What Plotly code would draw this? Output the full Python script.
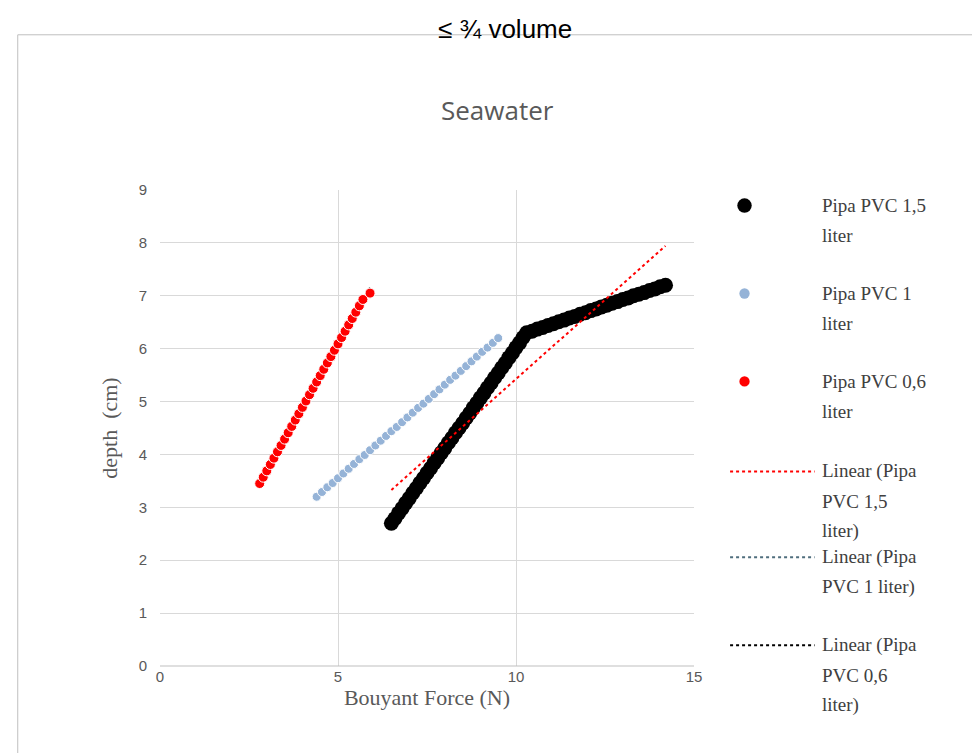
import numpy as np
import plotly.graph_objects as go

red_x = [2.8,2.9,3.0,3.1,3.2,3.3,3.4,3.5,3.6,3.7,3.8,3.9,4.0,4.1,4.2,4.3,4.4,4.5,4.6,4.7,4.8,4.9,5.0,5.1,5.2,5.3,5.4,5.5,5.6,5.7,5.9]
red_y = [3.45,3.57,3.69,3.81,3.93,4.05,4.17,4.29,4.41,4.53,4.65,4.77,4.89,5.01,5.13,5.25,5.37,5.49,5.61,5.73,5.85,5.97,6.09,6.21,6.33,6.45,6.57,6.69,6.81,6.93,7.05]
blue_x = [4.40,4.55,4.70,4.85,5.00,5.15,5.30,5.45,5.60,5.75,5.90,6.05,6.20,6.35,6.50,6.65,6.80,6.95,7.10,7.25,7.40,7.55,7.70,7.85,8.00,8.15,8.30,8.45,8.60,8.75,8.90,9.05,9.20,9.35,9.50]
blue_y = [3.20,3.29,3.38,3.46,3.55,3.64,3.73,3.82,3.91,3.99,4.08,4.17,4.26,4.35,4.44,4.52,4.61,4.70,4.79,4.88,4.96,5.05,5.14,5.23,5.32,5.41,5.49,5.58,5.67,5.76,5.85,5.94,6.02,6.11,6.20]
black_x = [6.5,6.6,6.7,6.8,6.9,7.0,7.1,7.2,7.3,7.4,7.5,7.6,7.7,7.8,7.9,8.0,8.1,8.2,8.3,8.4,8.5,8.6,8.7,8.8,8.9,9.0,
           9.1,9.2,9.3,9.4,9.5,9.6,9.7,9.8,9.9,10.0,10.1,10.2,10.3,
           10.45,10.6,10.75,10.9,11.05,11.2,11.35,11.5,11.65,11.8,11.95,12.1,12.25,12.4,12.55,12.7,12.85,13.0,
           13.15,13.3,13.45,13.6,13.75,13.9,14.05,14.2]
black_y = [2.70,2.79,2.89,2.98,3.08,3.17,3.27,3.36,3.46,3.55,3.65,3.74,3.84,3.93,4.03,4.12,4.22,4.31,4.41,4.50,4.59,4.69,
           4.78,4.88,4.97,5.07,5.16,5.26,5.35,5.45,5.54,5.64,5.73,5.83,5.92,6.02,6.11,6.21,6.30,
           6.33,6.37,6.40,6.44,6.47,6.51,6.54,6.58,6.61,6.65,6.68,6.72,6.75,6.79,6.82,6.86,6.89,6.93,
           6.96,7.00,7.03,7.06,7.10,7.13,7.17,7.20]
x_ticks = [0,5,10,15]
y_ticks = [0,1,2,3,4,5,6,7,8,9]
legend_names = [["Pipa PVC 1,5", "liter"], ["Pipa PVC 1", "liter"], ["Pipa PVC 0,6", "liter"],
                ["Linear (Pipa", "PVC 1,5", "liter)"], ["Linear (Pipa", "PVC 1 liter)"],
                ["Linear (Pipa", "PVC 0,6", "liter)"]]

def fit(x, y):
    m, c = np.polyfit(x, y, 1)
    xs = [min(x), max(x)]
    return xs, [m*v + c for v in xs]

serif = "Liberation Serif"
fig = go.Figure()
bx, by = fit(black_x, black_y)
ux, uy = fit(blue_x, blue_y)
rx, ry = fit(red_x, red_y)

fig.add_trace(go.Scatter(x=ux, y=uy, mode="lines", line=dict(color="#4f6e7d", width=2, dash="dot")))
fig.add_trace(go.Scatter(x=rx, y=ry, mode="lines", line=dict(color="black", width=2, dash="dot")))
fig.add_trace(go.Scatter(x=black_x, y=black_y, mode="markers", marker=dict(color="black", size=15)))
fig.add_trace(go.Scatter(x=blue_x, y=blue_y, mode="markers",
                         marker=dict(color="#95b3d7", size=9, line=dict(color="white", width=1))))
fig.add_trace(go.Scatter(x=red_x, y=red_y, mode="markers",
                         marker=dict(color="#ff0000", size=10, line=dict(color="white", width=1))))
fig.add_trace(go.Scatter(x=bx, y=by, mode="lines", line=dict(color="#ff0000", width=2, dash="dot")))

O = 8  # page offset
L, R, T, B = 160 - O, 678 - O, 190 - O, 650 - O
W, H = 980, 753
pw, ph = R - L, B - T
def px(v): return (v - L - O) / pw
def py(v): return (B + O - v) / ph

shapes = [
    dict(type="rect", xref="paper", yref="paper", x0=px(22), x1=px(962), y0=py(748), y1=py(40),
         line=dict(color="#bfbfbf", width=1), layer="below"),
    dict(type="line", xref="paper", yref="paper", x0=0, x1=1, y0=0, y1=0, line=dict(color="#bfbfbf", width=1)),
]
annotations = [
    dict(text="≤ ¾ volume", xref="paper", yref="paper", x=px(562), y=py(18), showarrow=False,
         font=dict(family="Liberation Sans", size=26, color="black")),
    dict(text="Seawater", xref="paper", yref="paper", x=px(487), y=py(93), showarrow=False,
         font=dict(family="Open Sans", size=26, color="#595959")),
]
item_y = [205, 290, 375, 462, 545, 630]
mk = [("black", 7), ("#95b3d7", 5), ("#ff0000", 5)]
lc = ["#ff0000", "#4f6e7d", "black"]
for i, (yy, lines) in enumerate(zip(item_y, legend_names)):
    if i < 3:
        c, r = mk[i]
        shapes.append(dict(type="circle", xref="paper", yref="paper", fillcolor=c, line=dict(width=0),
                           x0=px(727 - r), x1=px(727 + r), y0=py(yy + r), y1=py(yy - r)))
    else:
        shapes.append(dict(type="line", xref="paper", yref="paper", x0=px(713), x1=px(795), y0=py(yy), y1=py(yy),
                           line=dict(color=lc[i - 3], width=2, dash="dot")))
    for j, t in enumerate(lines):
        annotations.append(dict(text=t, xref="paper", yref="paper", x=px(800), y=py(yy + 29 * j),
                                xanchor="left", yanchor="middle", showarrow=False,
                                font=dict(family=serif, size=19, color="#404040")))

fig.update_layout(
    width=W, height=H, autosize=False,
    margin=dict(l=L, r=W - R - 2 * O, t=T, b=H - B - 2 * O),
    paper_bgcolor="white", plot_bgcolor="white", showlegend=False,
    xaxis=dict(range=[0, 15], tickvals=x_ticks, showgrid=True, gridcolor="#d9d9d9", zeroline=False,
               showline=False, tickfont=dict(family="Liberation Sans", size=15, color="#595959"),
               title=dict(text="Bouyant Force (N)", font=dict(family=serif, size=22, color="#595959"), standoff=4)),
    yaxis=dict(range=[0, 9], tickvals=y_ticks, showgrid=True, gridcolor="#d9d9d9", zeroline=False,
               showline=False, tickfont=dict(family="Liberation Sans", size=15, color="#595959"),
               ticklabelstandoff=12,
               title=dict(text="depth  (cm)", font=dict(family=serif, size=22, color="#595959"), standoff=14)),
    shapes=shapes, annotations=annotations,
)
fig.write_html("out.html")
